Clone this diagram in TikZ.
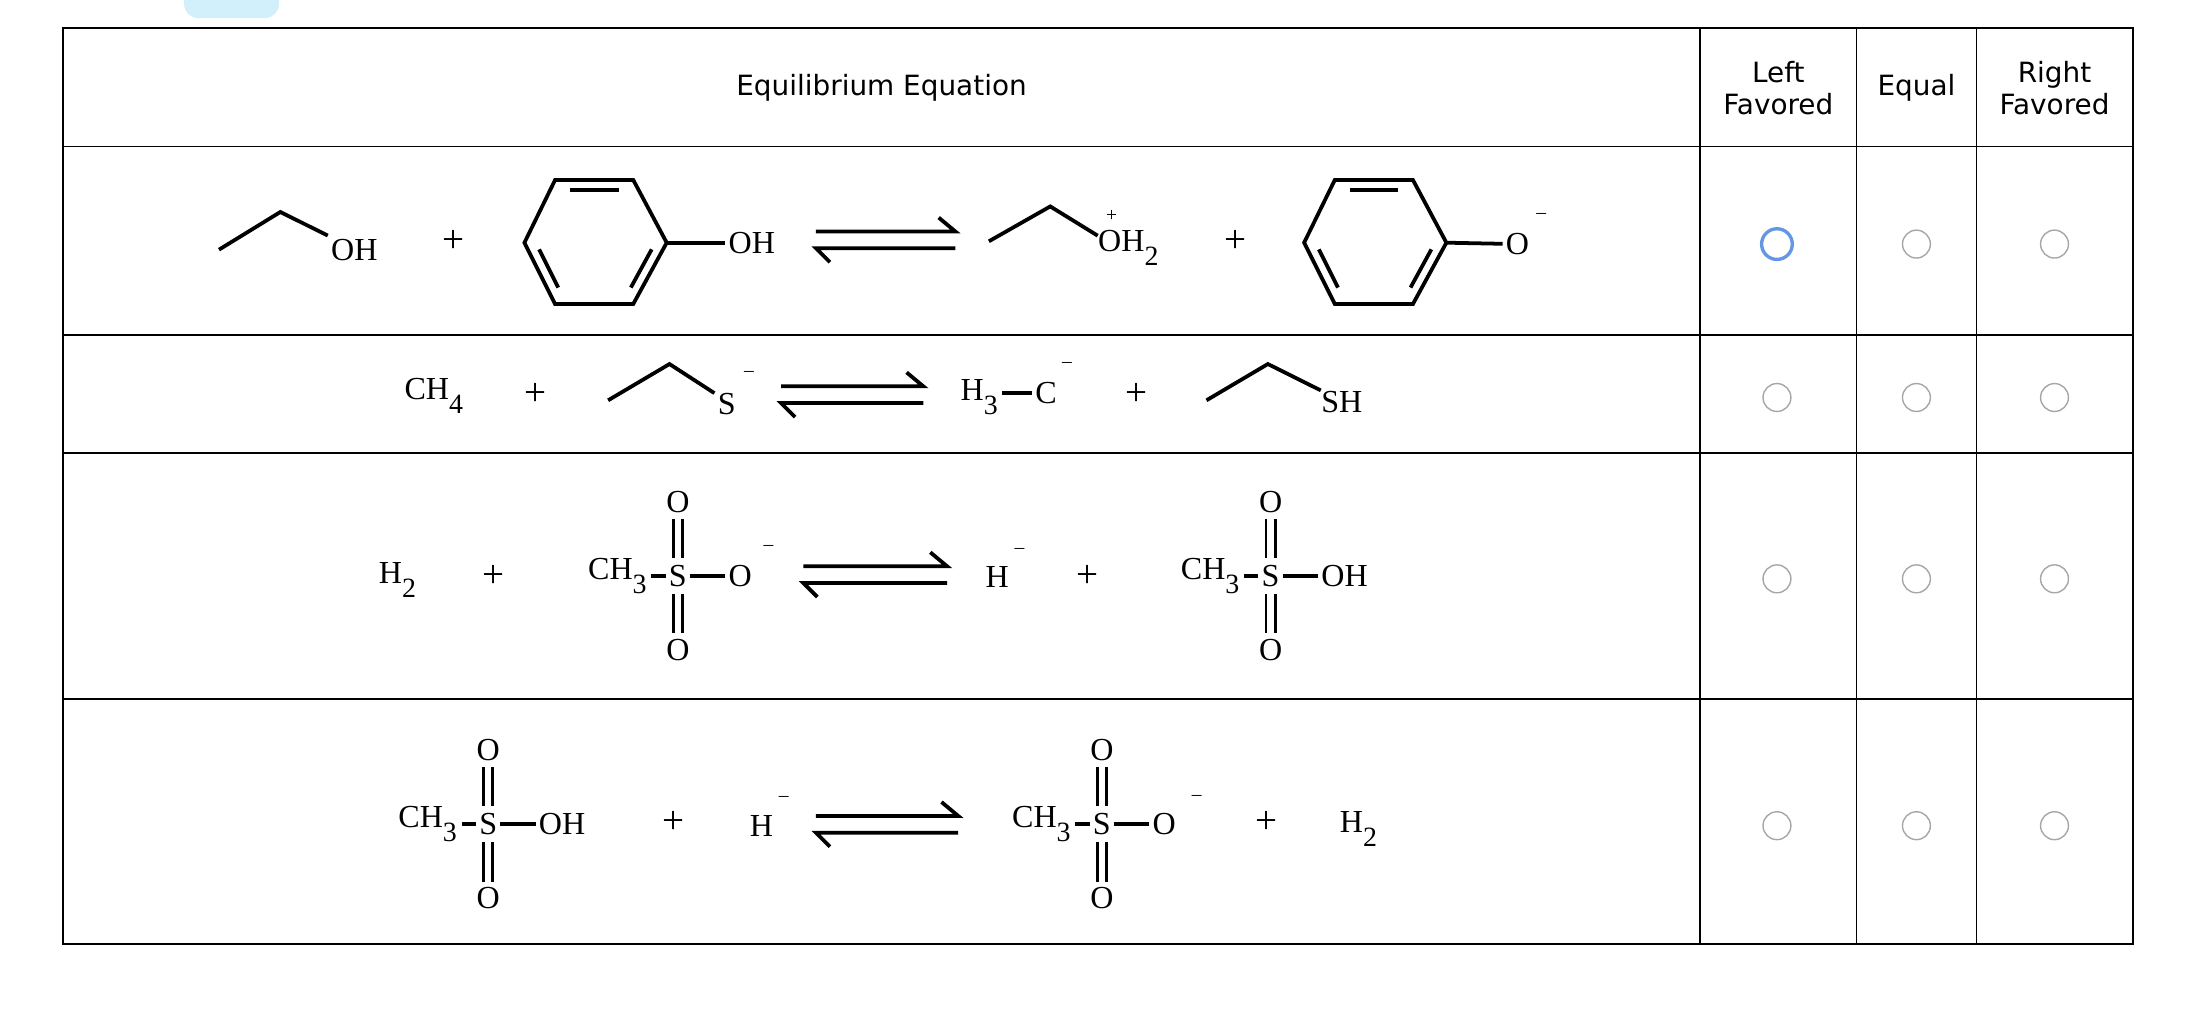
\documentclass[tikz,border=0pt]{standalone}
\usepackage{fontspec}
\setmainfont{Liberation Serif}
\newfontfamily\hdr{DejaVu Sans}
\usetikzlibrary{calc}
\newcommand\chemf{\fontsize{11.5}{12}\selectfont}
\newcommand\sbs[1]{\raisebox{-0.95ex}{\fontsize{10}{10}\selectfont #1}}
\tikzset{
  atom/.style={font=\chemf, inner sep=1pt},
  chg/.style={font=\fontsize{7}{8}\selectfont, inner sep=0pt},
  bond/.style={line width=1.35pt},
  grid/.style={line width=0.65pt},
  hd/.style={font=\hdr\fontsize{10}{11.5}\selectfont, align=center},
  radio/.style={draw=black!35, line width=0.5pt, circle, minimum size=10pt, inner sep=0pt},
  radiosel/.style={draw={rgb,255:red,100;green,150;blue,230}, line width=1.2pt, circle, minimum size=11pt, inner sep=0pt},
  plus/.style={font=\fontsize{14}{14}\selectfont, inner sep=0pt},
}
\newcommand\benzring[3]{%
  \coordinate (#1a) at (#2+22,#3-45);
  \coordinate (#1b) at (#2+78,#3-45);
  \coordinate (#1c) at (#2+102,#3);
  \coordinate (#1d) at (#2+78,#3+44);
  \coordinate (#1e) at (#2+22,#3+44);
  \coordinate (#1f) at (#2,#3);
  \coordinate (#1m) at (#2+51,#3);
  \draw[bond,line join=miter] (#1a)--(#1b)--(#1c)--(#1d)--(#1e)--(#1f)--cycle;
  \foreach \p/\q in {a/b,c/d,e/f}{
    \draw[bond] ($($(#1m)!0.84!(#1\p)$)!0.13!($(#1m)!0.84!(#1\q)$)$) -- ($($(#1m)!0.84!(#1\q)$)!0.13!($(#1m)!0.84!(#1\p)$)$);
  }%
}
\newcommand\eqarrow[4]{%
  \coordinate (#1tl) at (#2,#4-6); \coordinate (#1tr) at (#3,#4-6);
  \coordinate (#1bl) at (#2,#4+6); \coordinate (#1br) at (#3,#4+6);
  \draw[bond] (#1tl) -- (#1tr) -- ++(-12,-10);
  \draw[bond] (#1br) -- (#1bl) -- ++(10,10);
}
\newcommand\sulf[4]{%
  \node[atom] (#1s) at (#2,#3) {S};
  \node[atom,anchor=east] (#1c) at (#2-20,#3) {CH\sbs{3}};
  \node[atom] (#1ot) at (#2,#3-53) {O};
  \node[atom] (#1ob) at (#2,#3+53) {O};
  \node[atom,anchor=west] (#1r) at (#2+34,#3) {#4};
  \draw[bond] ($(#1c.east)+(1,0)$) -- (#1s.west);
  \draw[bond] (#1s.east) -- (#1r.west);
  \foreach \sx in {-3.3,3.3}{
    \draw[line width=1pt] ($(#1s)+(\sx,-13)$) -- ($(#1ot)+(\sx,12)$);
    \draw[line width=1pt] ($(#1s)+(\sx,13)$) -- ($(#1ob)+(\sx,-12)$);
  }%
}
\begin{document}
\begin{tikzpicture}[x=0.5pt,y=-0.5pt]
\useasboundingbox (0,0) rectangle (1568,723);
\fill[cyan!18!white, rounded corners=5pt] (132,-20) rectangle (200,13);
\draw[grid] (45,20) rectangle (1529,677);
\foreach \y in {105,240,325,501} \draw[grid] (45,\y) -- (1529,\y);
\foreach \x in {1219,1331,1417} \draw[grid] (\x,20) -- (\x,677);
\node[hd] (h0) at (632,63) {Equilibrium Equation};
\node[hd] (h1) at (1275,63) {Left\\Favored};
\node[hd] (h2) at (1374,63) {Equal};
\node[hd] (h3) at (1473,63) {Right\\Favored};
\node[radiosel] (r1a) at (1274,175) {};
\node[radio] (r1b) at (1374,175) {};
\node[radio] (r1c) at (1473,175) {};
\foreach \y/\n in {285/2,415/3,592/4}{
  \node[radio] (r\n a) at (1274,\y) {};
  \node[radio] (r\n b) at (1374,\y) {};
  \node[radio] (r\n c) at (1473,\y) {};
}
% row 1
\coordinate (e1a) at (157,179); \coordinate (e1b) at (201,152);
\node[atom] (e1oh) at (254,179) {OH};
\draw[bond] (e1a) -- (e1b) -- (e1oh.north west);
\node[plus] (p1a) at (325,173) {+};
\benzring{bz1}{376}{174}
\node[atom] (bz1oh) at (539,174) {OH};
\draw[bond] (bz1c) -- (bz1oh);
\eqarrow{a1}{585}{685}{172}
\coordinate (e2a) at (709,173); \coordinate (e2b) at (753,148);
\node[atom] (e2oh) at (809,178) {OH\sbs{2}};
\draw[bond] (e2a) -- (e2b) -- ($(e2oh.north west)+(2,6)$);
\node[chg] (e2p) at (797,155) {+};
\node[plus] (p1b) at (886,173) {+};
\benzring{bz2}{935}{174}
\node[atom] (bz2o) at (1088,175) {O};
\draw[bond] (bz2c) -- (bz2o);
\node[chg] (bz2m) at (1105,155) {\textendash};
% row 2
\node[atom] (ch4) at (311,284) {CH\sbs{4}};
\node[plus] (p2a) at (384,283) {+};
\coordinate (t1a) at (436,287); \coordinate (t1b) at (480,261);
\node[atom] (t1s) at (521,290) {S};
\draw[bond] (t1a) -- (t1b) -- ($(t1s.north west)+(0,2)$);
\node[chg] (t1m) at (537,268) {\textendash};
\eqarrow{a2}{560}{662}{283}
\node[atom] (h3) at (702,285) {H\sbs{3}};
\node[atom] (cm) at (750,282) {C};
\draw[bond] ($(h3.east)+(1,-3)$) -- ($(cm.west)+(0,0)$);
\node[chg] (cmm) at (765,262) {\textendash};
\node[plus] (p2b) at (815,283) {+};
\coordinate (t2a) at (865,287); \coordinate (t2b) at (909,261);
\node[atom] (t2sh) at (962,288) {SH};
\draw[bond] (t2a) -- (t2b) -- ($(t2sh.north west)+(2,2)$);
% row 3
\node[atom] (h2a) at (285,416) {H\sbs{2}};
\node[plus] (p3a) at (354,413) {+};
\sulf{sa}{486}{413}{O}
\node[chg] (sam) at (551,393) {\textendash};
\eqarrow{a3}{576}{679}{412}
\node[atom] (hm1) at (715,414) {H};
\node[chg] (hm1m) at (731,395) {\textendash};
\node[plus] (p3b) at (780,413) {+};
\sulf{sb}{911}{413}{OH}
% row 4
\sulf{sc}{350}{591}{OH}
\node[plus] (p4a) at (483,590) {+};
\node[atom] (hm2) at (546,592) {H};
\node[chg] (hm2m) at (562,573) {\textendash};
\eqarrow{a4}{585}{687}{591}
\sulf{sd}{790}{591}{O}
\node[chg] (sdm) at (858,572) {\textendash};
\node[plus] (p4b) at (908,590) {+};
\node[atom] (h2b) at (974,594) {H\sbs{2}};
\end{tikzpicture}
\end{document}
